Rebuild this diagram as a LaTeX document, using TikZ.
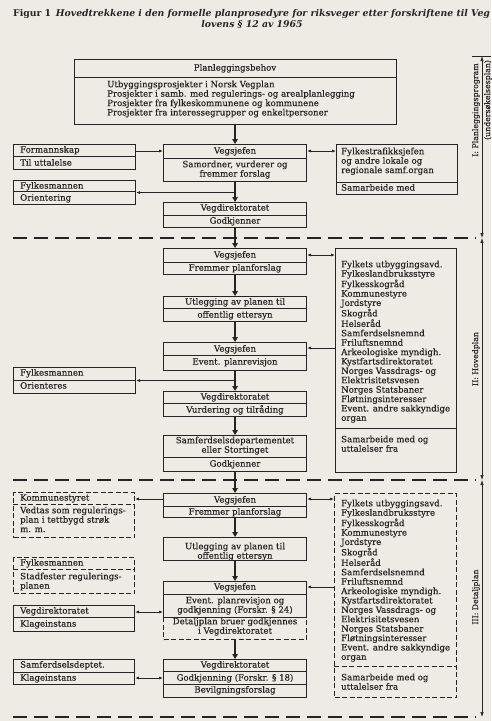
\documentclass[tikz,border=0pt]{standalone}
\usepackage{fontspec}
\setmainfont{DejaVu Serif}[UprightFeatures={FakeBold=0.25}]
\usetikzlibrary{arrows.meta}
\definecolor{paper}{RGB}{236,235,228}
\definecolor{ink}{RGB}{38,36,34}
\begin{document}
\begin{tikzpicture}[x=1pt,y=-1pt,
  box/.style={draw=ink, line width=1.1pt, inner sep=0pt, anchor=north west},
  dbox/.style={box, dash pattern=on 5pt off 2.5pt},
  div/.style={draw=ink, line width=0.9pt},
  ddiv/.style={div, dash pattern=on 5pt off 2.5pt},
  txt/.style={inner sep=0pt, text=ink, font=\fontsize{8.6}{9.4}\selectfont},
  ctxt/.style={txt, anchor=mid},
  ltxt/.style={txt, anchor=mid west},
  blk/.style={txt, align=left, anchor=north west},
  cblk/.style={txt, align=center, anchor=north},
  mainarr/.style={draw=ink, line width=1.8pt, -{Triangle[length=5pt,width=5.5pt]}},
  side/.style={draw=ink, line width=0.7pt, -{Latex[length=4pt,width=3pt]}},
  sides/.style={draw=ink, line width=0.7pt, {Latex[length=4pt,width=3pt]}-{Latex[length=4pt,width=3pt]}},
  sepline/.style={draw=ink, line width=1.1pt, dash pattern=on 14pt off 7pt},
  dimline/.style={draw=ink, line width=0.7pt, {Latex[length=5pt,width=3.5pt]}-{Latex[length=5pt,width=3.5pt]}},
  lab/.style={inner sep=0pt, text=ink, font=\fontsize{7.8}{9}\selectfont, rotate=90, anchor=mid}
]
\useasboundingbox (0,0) rectangle (491,721);
\fill[paper] (0,0) rectangle (491,721);

% ---------- title ----------
\node[inner sep=0pt, anchor=base west, text=ink, font=\fontsize{9.3}{11}\selectfont\bfseries] (title1) at (13,16)
  {Figur 1\enspace{\itshape Hovedtrekkene i den formelle planprosedyre for riksveger etter forskriftene til Veg}};
\node[inner sep=0pt, anchor=base, text=ink, font=\fontsize{9.3}{11}\selectfont\bfseries\itshape] (title2) at (252,27.5)
  {lovens § 12 av 1965};

% ---------- Section I ----------
\node[box, minimum width=322pt, minimum height=65pt] (tb) at (74,59) {};
\draw[div] (tb.west |- 0,77) -- (tb.east |- 0,77);
\node[ctxt] (tbh) at (235,68) {Planleggingsbehov};
\node[blk] (tbl) at (107,80.5) {Utbyggingsprosjekter i Norsk Vegplan\\Prosjekter i samb. med regulerings- og arealplanlegging\\Prosjekter fra fylkeskommunene og kommunene\\Prosjekter fra interessegrupper og enkeltpersoner};

\node[box, minimum width=143pt, minimum height=37pt] (v1) at (163,144) {};
\draw[div] (v1.west |- 0,158) -- (v1.east |- 0,158);
\node[ctxt] (v1h) at (235,151) {Vegsjefen};
\node[cblk] (v1t) at (235,160.5) {Samordner, vurderer og\\fremmer forslag};

\node[box, minimum width=122pt, minimum height=25pt] (fm) at (13,144) {};
\draw[div] (fm.west |- 0,156) -- (fm.east |- 0,156);
\node[ltxt] (fmh) at (20,150) {Formannskap};
\node[ltxt] (fmt) at (20,163) {Til uttalelse};

\node[box, minimum width=121pt, minimum height=50pt] (ft) at (336,144) {};
\draw[div] (ft.west |- 0,182) -- (ft.east |- 0,182);
\node[blk] (ftl) at (341,147.5) {Fylkestrafikksjefen\\og andre lokale og\\regionale samf.organ};
\node[ltxt] (ftt) at (341,188) {Samarbeide med};

\node[box, minimum width=122pt, minimum height=24pt] (fy1) at (13,180) {};
\draw[div] (fy1.west |- 0,191) -- (fy1.east |- 0,191);
\node[ltxt] (fy1h) at (20,186) {Fylkesmannen};
\node[ltxt] (fy1t) at (20,198) {Orientering};

\node[box, minimum width=143pt, minimum height=25pt] (vd1) at (163,202) {};
\draw[div] (vd1.west |- 0,215) -- (vd1.east |- 0,215);
\node[ctxt] (vd1h) at (235,208) {Vegdirektoratet};
\node[ctxt] (vd1t) at (235,221) {Godkjenner};

\coordinate (sA1) at (13,238); \coordinate (sA2) at (476,238);
\draw[sepline] (sA1) -- (sA2);

% ---------- Section II ----------
\node[box, minimum width=143pt, minimum height=26pt] (v2) at (163,248) {};
\draw[div] (v2.west |- 0,262) -- (v2.east |- 0,262);
\node[ctxt] (v2h) at (235,255) {Vegsjefen};
\node[ctxt] (v2t) at (235,268) {Fremmer planforslag};

\node[box, minimum width=121pt, minimum height=224pt] (ls2) at (335,248) {};
\draw[div] (ls2.west |- 0,428) -- (ls2.east |- 0,428);
\node[blk] (ls2l) at (341,260.5) {Fylkets utbyggingsavd.\\Fylkeslandbruksstyre\\Fylkesskogråd\\Kommunestyre\\Jordstyre\\Skogråd\\Helseråd\\Samferdselsnemnd\\Friluftsnemnd\\Arkeologiske myndigh.\\Kystfartsdirektoratet\\Norges Vassdrags- og\\Elektrisitetsvesen\\Norges Statsbaner\\Fløtningsinteresser\\Event. andre sakkyndige\\organ};
\node[blk] (ls2t) at (341,435.5) {Samarbeide med og\\uttalelser fra};

\node[box, minimum width=143pt, minimum height=25pt] (ut2) at (163,296) {};
\draw[div] (ut2.west |- 0,308) -- (ut2.east |- 0,308);
\node[ctxt] (ut2h) at (235,302) {Utlegging av planen til};
\node[ctxt] (ut2t) at (235,315) {offentlig ettersyn};

\node[box, minimum width=143pt, minimum height=28pt] (v3) at (163,342) {};
\draw[div] (v3.west |- 0,355) -- (v3.east |- 0,355);
\node[ctxt] (v3h) at (235,349) {Vegsjefen};
\node[ctxt] (v3t) at (235,362) {Event. planrevisjon};

\node[box, minimum width=122pt, minimum height=26pt] (fy2) at (13,367) {};
\draw[div] (fy2.west |- 0,380) -- (fy2.east |- 0,380);
\node[ltxt] (fy2h) at (20,373) {Fylkesmannen};
\node[ltxt] (fy2t) at (20,386) {Orienteres};

\node[box, minimum width=143pt, minimum height=25pt] (vd2) at (163,391) {};
\draw[div] (vd2.west |- 0,403) -- (vd2.east |- 0,403);
\node[ctxt] (vd2h) at (235,397) {Vegdirektoratet};
\node[ctxt] (vd2t) at (235,410) {Vurdering og tilråding};

\node[box, minimum width=143pt, minimum height=36pt] (sd) at (163,435) {};
\draw[div] (sd.west |- 0,457) -- (sd.east |- 0,457);
\node[cblk] (sdh) at (235,436.5) {Samferdselsdepartementet\\eller Stortinget};
\node[ctxt] (sdt) at (235,464) {Godkjenner};

\coordinate (sB1) at (13,480); \coordinate (sB2) at (476,480);
\draw[sepline] (sB1) -- (sB2);

% ---------- Section III ----------
\node[box, minimum width=143pt, minimum height=24pt] (v4) at (163,493) {};
\draw[div] (v4.west |- 0,506) -- (v4.east |- 0,506);
\node[ctxt] (v4h) at (235,500) {Vegsjefen};
\node[ctxt] (v4t) at (235,512) {Fremmer planforslag};

\node[dbox, minimum width=121pt, minimum height=45pt] (ks) at (13,492) {};
\draw[ddiv] (ks.west |- 0,504) -- (ks.east |- 0,504);
\node[ltxt] (ksh) at (20,498) {Kommunestyret};
\node[blk] (kst) at (20,506.5) {Vedtas som regulerings-\\plan i tettbygd strøk\\m. m.};

\node[dbox, minimum width=122pt, minimum height=204pt] (ls3) at (334,493) {};
\draw[ddiv] (ls3.west |- 0,666) -- (ls3.east |- 0,666);
\node[blk] (ls3l) at (341,499.5) {Fylkets utbyggingsavd.\\Fylkeslandbruksstyre\\Fylkesskogråd\\Kommunestyre\\Jordstyre\\Skogråd\\Helseråd\\Samferdselsnemnd\\Friluftsnemnd\\Arkeologiske myndigh.\\Kystfartsdirektoratet\\Norges Vassdrags- og\\Elektrisitetsvesen\\Norges Statsbaner\\Fløtningsinteresser\\Event. andre sakkyndige\\organ};
\node[blk] (ls3t) at (341,673.5) {Samarbeide med og\\uttalelser fra};

\node[box, minimum width=143pt, minimum height=23pt] (ut3) at (163,537) {};
\node[cblk] (ut3t) at (235,542.5) {Utlegging av planen til\\offentlig ettersyn};

\node[dbox, minimum width=121pt, minimum height=36pt] (fy3) at (13,557) {};
\draw[ddiv] (fy3.west |- 0,569) -- (fy3.east |- 0,569);
\node[ltxt] (fy3h) at (20,563) {Fylkesmannen};
\node[blk] (fy3t) at (20,572.5) {Stadfester regulerings-\\planen};

\node[dbox, minimum width=143pt, minimum height=22pt] (v5d) at (163,617) {};
\node[box, minimum width=143pt, minimum height=36pt] (v5) at (163,581) {};
\draw[div] (v5.west |- 0,594) -- (v5.east |- 0,594);
\node[ctxt] (v5h) at (235,587) {Vegsjefen};
\node[cblk] (v5t) at (235,596.5) {Event. planrevisjon og\\godkjenning (Forskr. § 24)};
\node[cblk] (v5dt) at (235,617.5) {Detaljplan bruer godkjennes\\i Vegdirektoratet};

\node[box, minimum width=121pt, minimum height=26pt] (vk) at (13,605) {};
\draw[div] (vk.west |- 0,617) -- (vk.east |- 0,617);
\node[ltxt] (vkh) at (20,611) {Vegdirektoratet};
\node[ltxt] (vkt) at (20,624) {Klageinstans};

\node[box, minimum width=143pt, minimum height=38pt] (vd3) at (163,659) {};
\draw[div] (vd3.west |- 0,671) -- (vd3.east |- 0,671);
\draw[div] (vd3.west |- 0,684) -- (vd3.east |- 0,684);
\node[ctxt] (vd3h) at (235,665) {Vegdirektoratet};
\node[ctxt] (vd3t) at (235,678) {Godkjenning (Forskr. § 18)};
\node[ctxt] (vd3b) at (235,690) {Bevilgningsforslag};

\node[box, minimum width=121pt, minimum height=25pt] (sk) at (13,659) {};
\draw[div] (sk.west |- 0,672) -- (sk.east |- 0,672);
\node[ltxt] (skh) at (20,665) {Samferdselsdeptet.};
\node[ltxt] (skt) at (20,678) {Klageinstans};

\coordinate (sC1) at (13,717); \coordinate (sC2) at (476,717);
\draw[sepline] (sC1) -- (sC2);

% ---------- main flow ----------
\draw[mainarr] (tb.south -| v1.north) -- (v1.north);
\draw[mainarr] (v1.south) -- (vd1.north);
\draw[mainarr] (vd1.south) -- (v2.north);
\draw[mainarr] (v2.south) -- (ut2.north);
\draw[mainarr] (ut2.south) -- (v3.north);
\draw[mainarr] (v3.south) -- (vd2.north);
\draw[mainarr] (vd2.south) -- (sd.north);
\draw[mainarr] (sd.south) -- (v4.north);
\draw[mainarr] (v4.south) -- (ut3.north);
\draw[mainarr] (ut3.south) -- (v5.north);
\draw[mainarr] (v5d.south) -- (vd3.north);

% ---------- side connectors ----------
\draw[side] (fm.east |- 0,151) -- (v1.west |- 0,151);
\draw[sides] (v1.east |- 0,151) -- (ft.west |- 0,151);
\draw[side] (v1.south |- fy1.east) -- (fy1.east);
\draw[sides] (v2.east |- 0,255) -- (ls2.west |- 0,255);
\draw[side] (ls2.west |- 0,348) -- (v3.east |- 0,348);
\draw[side] (v3.south |- fy2.east) -- (fy2.east);
\draw[side] (v4.west |- 0,499) -- (ks.east |- 0,499);
\draw[sides] (v4.east |- 0,499) -- (ls3.west |- 0,499);
\draw[side] (ls3.west |- 0,587) -- (v5.east |- 0,587);
\draw[sides] (vk.east |- 0,612) -- (v5.west |- 0,612);
\draw[sides] (sk.east |- 0,678) -- (vd3.west |- 0,678);

% ---------- phase scale ----------
\coordinate (d0) at (482,56); \coordinate (d1) at (482,238);
\coordinate (d2) at (482,480); \coordinate (d3) at (482,717);
\coordinate (t1) at (472,56); \coordinate (t2) at (491,56);
\draw[draw=ink, line width=0.7pt] (t1) -- (t2);
\draw[dimline] (d0) -- (d1);
\draw[dimline] (d1) -- (d2);
\draw[dimline] (d2) -- (d3);
\node[lab] (p1) at (475.5,110) {I:\ Planleggingsprogram};
\node[lab] (p1b) at (487.5,100) {(undersøkelsesplan)};
\node[lab] (p2) at (475.5,359) {II:\ Hovedplan};
\node[lab] (p3) at (475.5,597) {III:\ Detaljplan};
\end{tikzpicture}
\end{document}
